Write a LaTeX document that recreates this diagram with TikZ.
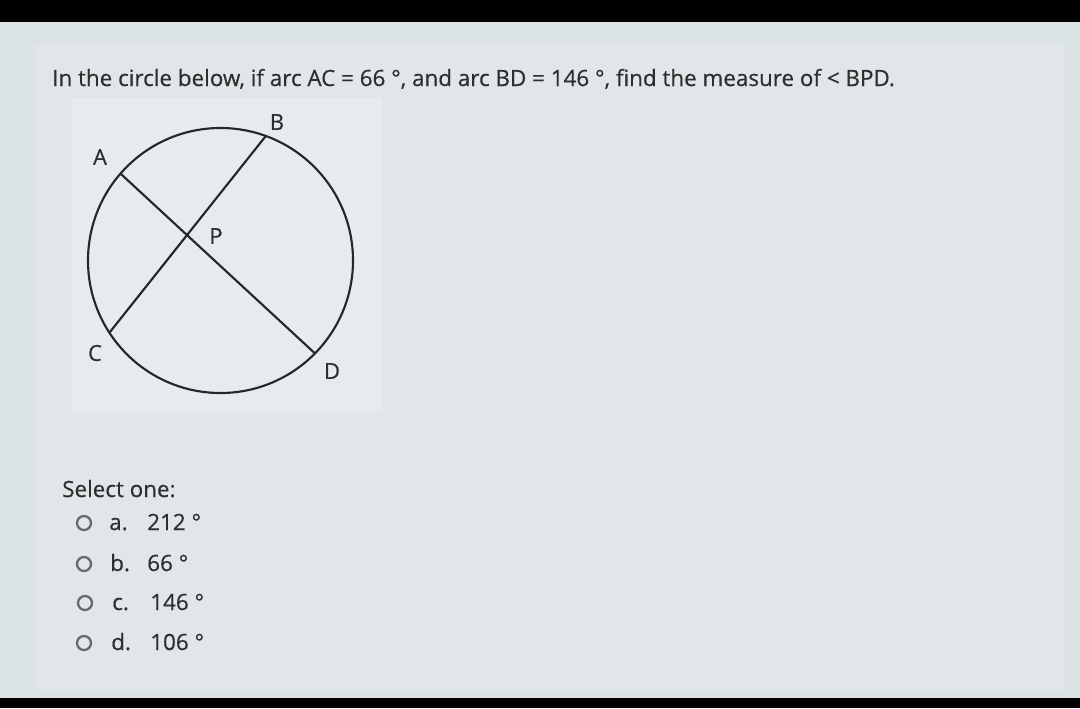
\documentclass[tikz,border=0pt]{standalone}
\usepackage{fontspec}
\setmainfont{Open Sans}[FakeBold=0.5]
\usetikzlibrary{calc}
\definecolor{bgdark}{HTML}{DCE3E5}
\definecolor{panel}{HTML}{E1E7E9}
\definecolor{figbox}{HTML}{E6ECEE}
\definecolor{ink}{HTML}{2E2E2E}
\definecolor{radio}{HTML}{66696B}
\tikzset{
  txt/.style={inner sep=0pt, text=ink, font=\fontsize{16.8}{20}\selectfont},
  lbl/.style={inner sep=0pt, text=ink, font=\fontsize{16.5}{20}\selectfont},
  geo/.style={line width=1.6pt, draw=black!85},
  radiobtn/.style={circle, draw=radio, line width=1.7pt, minimum size=10.5pt, inner sep=0pt},
}
\begin{document}
\begin{tikzpicture}[x=0.75pt,y=-0.75pt]
\useasboundingbox (0,0) rectangle (1080,708);
\fill[bgdark] (0,0) rectangle (1080,708);
\fill[panel] (35,45) rectangle (1065,690);
\fill[figbox] (72,98) rectangle (382,412);
\fill[black] (0,0) rectangle (1080,22);
\fill[black] (0,698) rectangle (1080,708);
% title
\node[txt, anchor=base west] (title) at (52,86) {In the circle below, if arc AC = 66 °, and arc BD = 146 °, find the measure of < BPD.};
% circle
\node[geo, circle, draw, minimum size=265*0.75pt, inner sep=0pt] (O) at (220.5,260.5) {};
\coordinate (A) at (120.5,173.6);
\coordinate (B) at (265.8,136.0);
\coordinate (C) at (109.4,332.7);
\coordinate (D) at (315.0,353.4);
\draw[geo] (A) -- (D);
\draw[geo] (B) -- (C);
\node[lbl] (lA) at (100,157) {A};
\node[lbl] (lB) at (277,122) {B};
\node[lbl] (lP) at (216,236) {P};
\node[lbl] (lC) at (95,353) {C};
\node[lbl] (lD) at (332,371) {D};
% options
\node[txt, anchor=base west] (sel) at (62,497) {Select one:};
\node[radiobtn] (ra) at (84,523) {};
\node[radiobtn] (rb) at (84,564) {};
\node[radiobtn] (rc) at (85,603) {};
\node[radiobtn] (rd) at (84,643) {};
\node[txt, anchor=base west] (la) at (109,530) {a.};
\node[txt, anchor=base west] (lb) at (110,571) {b.};
\node[txt, anchor=base west] (lc) at (112,610) {c.};
\node[txt, anchor=base west] (ld) at (111,650) {d.};
\node[txt, anchor=base west] (va) at (147,530) {212 °};
\node[txt, anchor=base west] (vb) at (147,571) {66 °};
\node[txt, anchor=base west] (vc) at (150,610) {146 °};
\node[txt, anchor=base west] (vd) at (150,650) {106 °};
\end{tikzpicture}
\end{document}
